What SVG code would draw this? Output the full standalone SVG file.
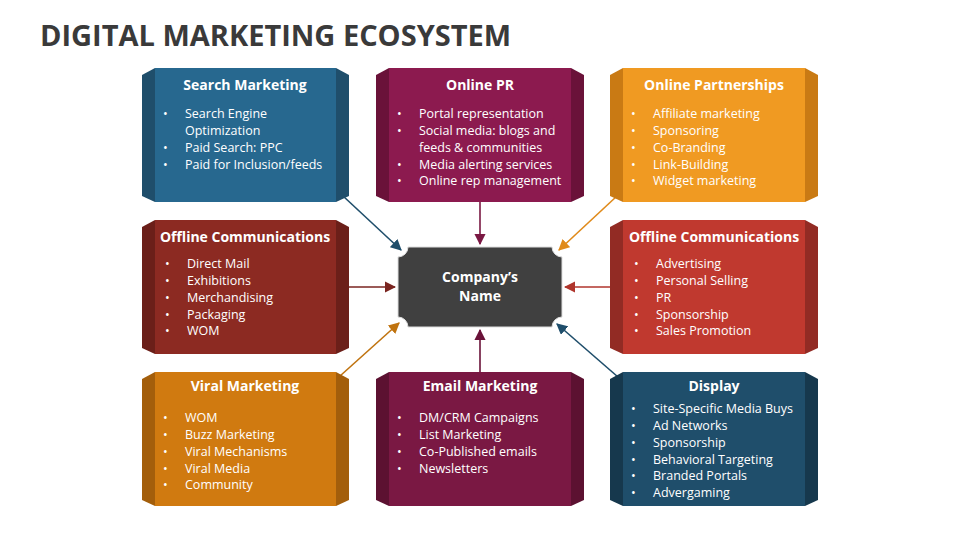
<svg xmlns="http://www.w3.org/2000/svg" width="960" height="540" viewBox="0 0 960 540">
<defs>
<style>
.t{font-family:"Open Sans","Liberation Sans",sans-serif;fill:#fff}
.h{font-size:14px;font-weight:bold;text-anchor:middle}
.b{font-size:12.5px}
.c{stroke-width:1.6;fill:none}
</style>
<marker id="m1" viewBox="0 0 10 10" refX="9" refY="5" markerWidth="7" markerHeight="7" orient="auto"><path d="M0,0L10,5L0,10z" fill="#1f4e6b"/></marker>
<marker id="m2" viewBox="0 0 10 10" refX="9" refY="5" markerWidth="7" markerHeight="7" orient="auto"><path d="M0,0L10,5L0,10z" fill="#7a1843"/></marker>
<marker id="m3" viewBox="0 0 10 10" refX="9" refY="5" markerWidth="7" markerHeight="7" orient="auto"><path d="M0,0L10,5L0,10z" fill="#e08a1a"/></marker>
<marker id="m4" viewBox="0 0 10 10" refX="9" refY="5" markerWidth="7" markerHeight="7" orient="auto"><path d="M0,0L10,5L0,10z" fill="#7a2520"/></marker>
<marker id="m5" viewBox="0 0 10 10" refX="9" refY="5" markerWidth="7" markerHeight="7" orient="auto"><path d="M0,0L10,5L0,10z" fill="#b0352c"/></marker>
<marker id="m6" viewBox="0 0 10 10" refX="9" refY="5" markerWidth="7" markerHeight="7" orient="auto"><path d="M0,0L10,5L0,10z" fill="#c0730f"/></marker>
<marker id="m7" viewBox="0 0 10 10" refX="9" refY="5" markerWidth="7" markerHeight="7" orient="auto"><path d="M0,0L10,5L0,10z" fill="#6a1239"/></marker>
<marker id="m8" viewBox="0 0 10 10" refX="9" refY="5" markerWidth="7" markerHeight="7" orient="auto"><path d="M0,0L10,5L0,10z" fill="#1f4e6b"/></marker>
</defs>
<rect width="960" height="540" fill="#fff"/>
<text x="40" y="46" style="font-family:'Open Sans','Liberation Sans',sans-serif;font-size:29px;font-weight:bold;fill:#3a3a3a">DIGITAL MARKETING ECOSYSTEM</text>

<g id="connectors">
<line class="c" x1="343" y1="196" x2="401" y2="250" stroke="#1f4e6b" marker-end="url(#m1)"/>
<line class="c" x1="480" y1="202" x2="480" y2="244" stroke="#7a1843" marker-end="url(#m2)"/>
<line class="c" x1="617" y1="196" x2="559" y2="250" stroke="#e08a1a" marker-end="url(#m3)"/>
<line class="c" x1="349" y1="287" x2="395" y2="287" stroke="#7a2520" marker-end="url(#m4)"/>
<line class="c" x1="610" y1="287" x2="565" y2="287" stroke="#b0352c" marker-end="url(#m5)"/>
<line class="c" x1="340" y1="376" x2="399" y2="323" stroke="#c0730f" marker-end="url(#m6)"/>
<line class="c" x1="480" y1="372" x2="480" y2="330" stroke="#6a1239" marker-end="url(#m7)"/>
<line class="c" x1="618" y1="377" x2="557" y2="324" stroke="#1f4e6b" marker-end="url(#m8)"/>
</g>

<g id="center">
<path d="M408,247 H552 A10,10 0 0 0 562,257 V317 A10,10 0 0 0 552,327 H408 A10,10 0 0 0 398,317 V257 A10,10 0 0 0 408,247 Z" fill="#404040" stroke="#ddd" stroke-width="1"/>
<text class="t h" x="480" y="282">Company’s</text>
<text class="t h" x="480" y="301">Name</text>
</g>

<g id="search">
<polygon points="142,75 155,68 155,202 142,196" fill="#1f4e6b"/>
<polygon points="336,68 349,75 349,196 336,202" fill="#1f4e6b"/>
<rect x="155" y="68" width="181" height="134" fill="#27688f"/>
<text class="t h" x="245" y="90">Search Marketing</text>
<g class="t b"><text x="163" y="118">•</text><text x="185" y="118">Search Engine</text><text x="185" y="135">Optimization</text><text x="163" y="152">•</text><text x="185" y="152">Paid Search: PPC</text><text x="163" y="169">•</text><text x="185" y="169">Paid for Inclusion/feeds</text></g>
</g>

<g id="onlinepr">
<polygon points="376,75 389,68 389,202 376,196" fill="#6a1239"/>
<polygon points="571,68 584,75 584,196 571,202" fill="#6a1239"/>
<rect x="389" y="68" width="182" height="134" fill="#8c1a4f"/>
<text class="t h" x="480" y="90">Online PR</text>
<g class="t b"><text x="397" y="118">•</text><text x="419" y="118">Portal representation</text><text x="397" y="135">•</text><text x="419" y="135">Social media: blogs and</text><text x="419" y="152">feeds &amp; communities</text><text x="397" y="169">•</text><text x="419" y="169">Media alerting services</text><text x="397" y="185">•</text><text x="419" y="185">Online rep management</text></g>
</g>

<g id="partnerships">
<polygon points="610,75 623,68 623,202 610,196" fill="#c97a14"/>
<polygon points="805,68 818,75 818,196 805,202" fill="#c97a14"/>
<rect x="623" y="68" width="182" height="134" fill="#f09a22"/>
<text class="t h" x="714" y="90">Online Partnerships</text>
<g class="t b"><text x="631" y="118">•</text><text x="653" y="118">Affiliate marketing</text><text x="631" y="135">•</text><text x="653" y="135">Sponsoring</text><text x="631" y="152">•</text><text x="653" y="152">Co-Branding</text><text x="631" y="169">•</text><text x="653" y="169">Link-Building</text><text x="631" y="185">•</text><text x="653" y="185">Widget marketing</text></g>
</g>

<g id="offline-left">
<polygon points="142,227 155,220 155,354 142,348" fill="#6b1f19"/>
<polygon points="336,220 349,227 349,348 336,354" fill="#6b1f19"/>
<rect x="155" y="220" width="181" height="134" fill="#8c2a22"/>
<text class="t h" x="245" y="242">Offline Communications</text>
<g class="t b"><text x="165" y="268">•</text><text x="187" y="268">Direct Mail</text><text x="165" y="285">•</text><text x="187" y="285">Exhibitions</text><text x="165" y="302">•</text><text x="187" y="302">Merchandising</text><text x="165" y="319">•</text><text x="187" y="319">Packaging</text><text x="165" y="335">•</text><text x="187" y="335">WOM</text></g>
</g>

<g id="offline-right">
<polygon points="610,227 623,220 623,354 610,348" fill="#922b24"/>
<polygon points="805,220 818,227 818,348 805,354" fill="#922b24"/>
<rect x="623" y="220" width="182" height="134" fill="#c0392f"/>
<text class="t h" x="714" y="242">Offline Communications</text>
<g class="t b"><text x="634" y="268">•</text><text x="656" y="268">Advertising</text><text x="634" y="285">•</text><text x="656" y="285">Personal Selling</text><text x="634" y="302">•</text><text x="656" y="302">PR</text><text x="634" y="319">•</text><text x="656" y="319">Sponsorship</text><text x="634" y="335">•</text><text x="656" y="335">Sales Promotion</text></g>
</g>

<g id="viral">
<polygon points="142,379 155,372 155,506 142,500" fill="#a35e0b"/>
<polygon points="336,372 349,379 349,500 336,506" fill="#a35e0b"/>
<rect x="155" y="372" width="181" height="134" fill="#d07a10"/>
<text class="t h" x="245" y="391">Viral Marketing</text>
<g class="t b"><text x="163" y="422">•</text><text x="185" y="422">WOM</text><text x="163" y="439">•</text><text x="185" y="439">Buzz Marketing</text><text x="163" y="456">•</text><text x="185" y="456">Viral Mechanisms</text><text x="163" y="473">•</text><text x="185" y="473">Viral Media</text><text x="163" y="489">•</text><text x="185" y="489">Community</text></g>
</g>

<g id="email">
<polygon points="376,379 389,372 389,506 376,500" fill="#5c1131"/>
<polygon points="571,372 584,379 584,500 571,506" fill="#5c1131"/>
<rect x="389" y="372" width="182" height="134" fill="#7a1843"/>
<text class="t h" x="480" y="391">Email Marketing</text>
<g class="t b"><text x="397" y="422">•</text><text x="419" y="422">DM/CRM Campaigns</text><text x="397" y="439">•</text><text x="419" y="439">List Marketing</text><text x="397" y="456">•</text><text x="419" y="456">Co-Published emails</text><text x="397" y="473">•</text><text x="419" y="473">Newsletters</text></g>
</g>

<g id="display">
<polygon points="610,379 623,372 623,506 610,500" fill="#16384d"/>
<polygon points="805,372 818,379 818,500 805,506" fill="#16384d"/>
<rect x="623" y="372" width="182" height="134" fill="#1f4e6b"/>
<text class="t h" x="714" y="391">Display</text>
<g class="t b"><text x="631" y="413">•</text><text x="653" y="413">Site-Specific Media Buys</text><text x="631" y="430">•</text><text x="653" y="430">Ad Networks</text><text x="631" y="447">•</text><text x="653" y="447">Sponsorship</text><text x="631" y="464">•</text><text x="653" y="464">Behavioral Targeting</text><text x="631" y="480">•</text><text x="653" y="480">Branded Portals</text><text x="631" y="497">•</text><text x="653" y="497">Advergaming</text></g>
</g>
</svg>
